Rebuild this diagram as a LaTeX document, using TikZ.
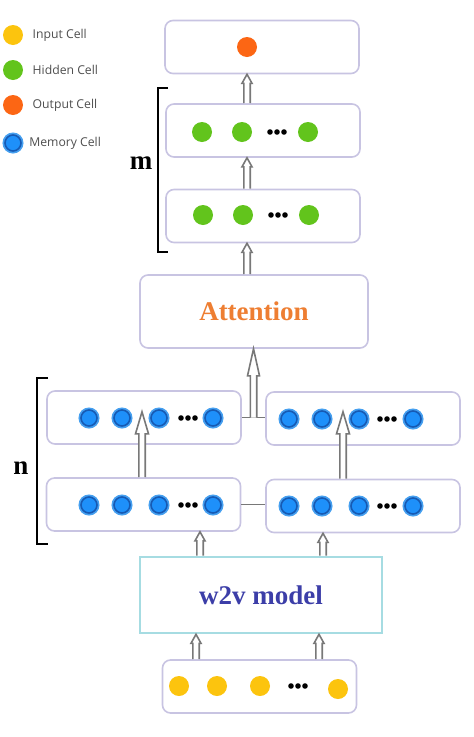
\documentclass[tikz,border=0pt]{standalone}
\usepackage{fontspec}
\setmainfont{Liberation Serif}
\newfontfamily\legendfont{Open Sans}
\usetikzlibrary{arrows.meta, positioning, calc}
\definecolor{boxline}{RGB}{200,196,226}
\definecolor{w2vline}{RGB}{166,220,226}
\definecolor{arrowgray}{RGB}{120,120,120}
\definecolor{legendgray}{RGB}{78,78,78}
\definecolor{cellyellow}{RGB}{252,196,14}
\definecolor{cellgreen}{RGB}{98,196,28}
\definecolor{cellorange}{RGB}{252,102,20}
\definecolor{cellblue}{RGB}{30,144,250}
\definecolor{cellhalo}{RGB}{70,160,240}
\definecolor{celldark}{RGB}{22,90,180}
\definecolor{attorange}{RGB}{238,126,50}
\definecolor{w2vblue}{RGB}{60,62,168}

\begin{document}
\begin{tikzpicture}[
    x=1pt, y=-1pt,
    layer/.style={rectangle, draw=boxline, line width=1.6pt, rounded corners=8pt, fill=white,
                minimum width=194pt, minimum height=53pt},
    cell/.style={circle, inner sep=0pt, minimum size=20pt},
    incell/.style={cell, fill=cellyellow},
    hidcell/.style={cell, fill=cellgreen},
    outcell/.style={cell, fill=cellorange},
    memcell/.style={cell, minimum size=16pt, fill=cellblue, draw=celldark, line width=1.6pt,
                preaction={draw=cellhalo, line width=5pt}},
    legend/.style={right=6pt of #1, font=\legendfont\fontsize{12.2}{14}\selectfont, text=legendgray},
    title/.style={font=\fontsize{27}{30}\selectfont\bfseries},
    % hollow upward arrow: head half width / head length
    hollow/.style args={#1/#2}{draw=arrowgray, line width=1.6pt, fill=white, line join=miter,
                to path={let \p1=(\tikztostart), \p2=(\tikztotarget) in
                  (\x1-3.2pt,\y1) -- (\x1-3.2pt,\y2-#2) -- (\x1-#1,\y2-#2) -- (\x1,\y2)
                  -- (\x1+#1,\y2-#2) -- (\x1+3.2pt,\y2-#2) -- (\x1+3.2pt,\y1)}},
    link/.style={draw=arrowgray, line width=1.4pt},
    bracket/.style={line width=2.4pt, black},
    dots/.pic={\foreach \d in {-7,0,7} \fill (\d,0) circle (2.8pt);}
]
\useasboundingbox (0,0) rectangle (474,737);

% Legend
\node[incell] (lin) at (13,35) {};
\node[hidcell] (lhid) at (13,70) {};
\node[outcell] (lout) at (13,105) {};
\node[memcell] (lmem) at (13,143) {};
\node[legend=lin] {Input Cell};
\node[legend=lhid] {Hidden Cell};
\node[legend=lout] {Output Cell};
\node[legend=lmem, right=4pt of lmem] {Memory Cell};

% Layers
\node[layer] (out) at (262,47) {};
\node[layer] (h1) at (263,130.5) {};
\node[layer] (h2) at (263,216) {};
\node[layer, minimum width=228pt, minimum height=73pt, title, text=attorange] (att) at (254,311.5) {Attention};
\node[layer] (lt) at (144,417.5) {};
\node[layer] (rt) at (363,418.5) {};
\node[layer] (lb) at (143.5,504.5) {};
\node[layer] (rb) at (363,506) {};
\node[rectangle, draw=w2vline, line width=2.6pt, fill=white, minimum width=242pt, minimum height=76pt,
      title, text=w2vblue] (w2v) at (261,595) {w2v model};
\node[layer] (in) at (259.5,686.5) {};

% Cells
\node[outcell] (o1) at (247,47) {};
\foreach \x [count=\i] in {202,242,308} {
  \node[hidcell] (h1c\i) at (\x,132) {};
  \node[hidcell] (h2c\i) at (\x+1,215) {};
}
\pic at (277,132) {dots};
\pic at (278,215) {dots};
\foreach \x [count=\i] in {89,122,159,213} {
  \node[memcell] (ltc\i) at (\x,418) {};
  \node[memcell] (lbc\i) at (\x,505) {};
  \node[memcell] (rtc\i) at (\x+200,419) {};
  \node[memcell] (rbc\i) at (\x+200,506) {};
}
\foreach \y in {418,505} {
  \pic at (188,\y) {dots};
  \pic at (387,\y+1) {dots};
}
\foreach \x/\y [count=\i] in {179/686,217/686,260/686,338/689} {
  \node[incell] (inc\i) at (\x,\y) {};
}
\pic at (298,686) {dots};

% Connections
\draw[hollow=5pt/9pt] ([xshift=-63.5pt]in.north) to ([xshift=-65pt]w2v.south);
\draw[hollow=5pt/9pt] ([xshift=59.5pt]in.north) to ([xshift=58pt]w2v.south);
\draw[hollow=5pt/9pt] ([xshift=-61pt]w2v.north) to ([xshift=56.5pt]lb.south);
\draw[hollow=5pt/9pt] ([xshift=62pt]w2v.north) to ([xshift=-40pt]rb.south);
\draw[link] (lb.east) -- (lb.east -| rb.west);
\draw[link] (lt.east) -- (lt.east -| rt.west);
\coordinate (join) at ($(lt.east)!0.5!(lt.east -| rt.west)$);
\draw[hollow=6.5pt/22pt] ([xshift=-1.5pt]lb.north) to ([xshift=-2pt, yshift=33pt]lt.south);
\draw[hollow=6.5pt/22pt] ([xshift=-20pt]rb.north) to ([xshift=-20pt, yshift=34pt]rt.south);
\draw[hollow=6pt/27pt] (join) to (join |- att.south);
\draw[hollow=5pt/9pt] ([xshift=-7pt]att.north) to ([xshift=-16pt]h2.south);
\draw[hollow=5pt/9pt] ([xshift=-16pt]h2.north) to ([xshift=-16pt]h1.south);
\draw[hollow=5pt/9pt] ([xshift=-16pt]h1.north) to ([xshift=-15pt]out.south);

% Brackets
\draw[bracket] (168,88) -- (158,88) -- (158,252) -- (168,252);
\node[title] (mlabel) at (141,163) {m};
\draw[bracket] (48,378) -- (37,378) -- (37,544) -- (48,544);
\node[title] (nlabel) at (21,468) {n};

\end{tikzpicture}
\end{document}
